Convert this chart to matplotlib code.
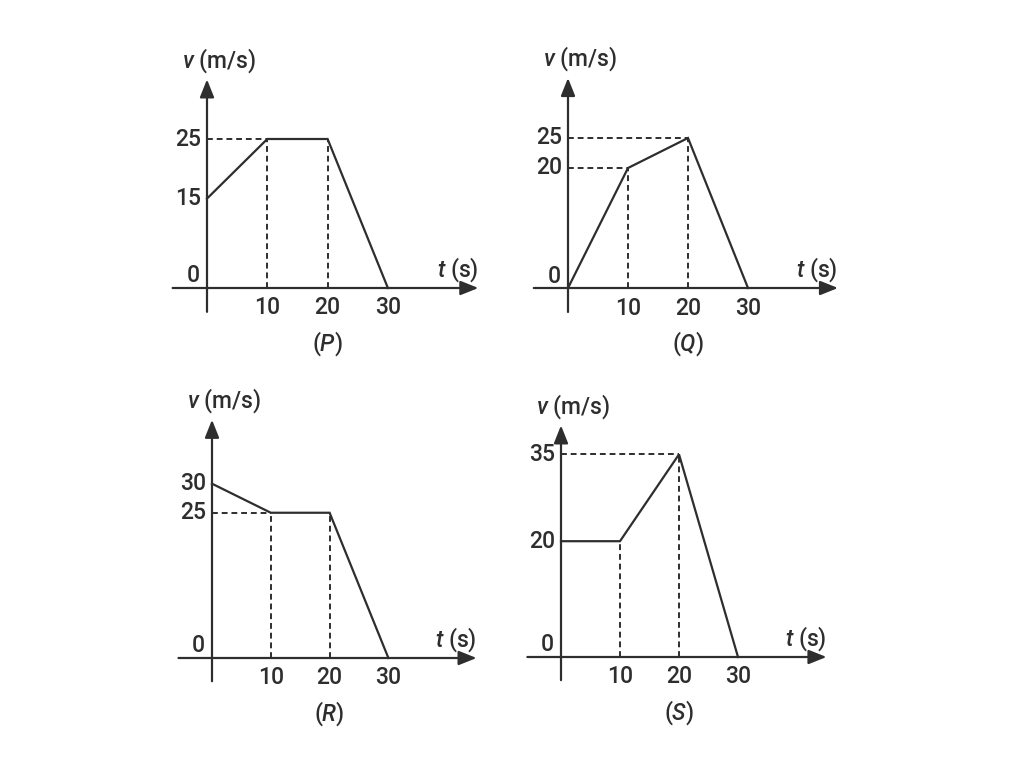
import matplotlib
matplotlib.use("Agg")
import matplotlib.pyplot as plt

plt.rcParams['font.family'] = ['Roboto', 'DejaVu Sans']
plt.rcParams['font.weight'] = 'medium'
plt.rcParams['mathtext.fontset'] = 'custom'
plt.rcParams['mathtext.it'] = 'Roboto:italic:medium'
plt.rcParams['mathtext.rm'] = 'Roboto:medium'

# data
times = [0, 10, 20, 30]
speed_p = [15, 25, 25, 0]
speed_q = [0, 20, 25, 0]
speed_r = [30, 25, 25, 0]
speed_s = [20, 20, 35, 0]
yticks_p = [15, 25]
yticks_q = [20, 25]
yticks_r = [25, 30]
yticks_s = [20, 35]
xticks = [10, 20, 30]
names = ['P', 'Q', 'R', 'S']

FW, FH = 1023, 767
INK = '#2e2e2e'
FS = 16.5

# layout: origin pixel, px per unit (x, y), top of y arrow in data units
layout = {
    'P': dict(ox=207, oy=288, sx=6.03, sy=5.96, ytop=35),
    'Q': dict(ox=568, oy=288, sx=6.0, sy=6.0, ytop=35),
    'R': dict(ox=212, oy=658, sx=5.88, sy=5.81, ytop=41),
    'S': dict(ox=561, oy=657, sx=5.9, sy=5.79, ytop=40),
}


def make_axes(fig, ox, oy, sx, sy, ytop):
    xmin, xmax = -10, 50
    ymin, ymax = -14, ytop + 10
    left = (ox + xmin * sx) / FW
    width = (xmax - xmin) * sx / FW
    bottom = 1 - (oy - ymin * sy) / FH
    height = (ymax - ymin) * sy / FH
    ax = fig.add_axes([left, bottom, width, height])
    ax.set_xlim(xmin, xmax)
    ax.set_ylim(ymin, ymax)
    ax.axis('off')
    return ax


def draw_panel(ax, t, v, yticks, name, ytop):
    arrow = dict(arrowstyle='-|>,head_length=0.6,head_width=0.24',
                 mutation_scale=18, lw=1.6, color=INK, shrinkA=0, shrinkB=0)
    # axes with arrow heads
    ax.annotate('', xy=(45, 0), xytext=(-5.7, 0), arrowprops=arrow)
    ax.annotate('', xy=(0, ytop), xytext=(0, -4), arrowprops=arrow)

    # dashed guides
    dash = dict(color=INK, lw=1.4, linestyle=(0, (3, 2)))
    for yv in yticks:
        if yv == v[0]:
            continue
        tx = t[v.index(yv)]
        ax.plot([0, tx], [yv, yv], **dash)
    for tx, yv in zip(t[1:-1], v[1:-1]):
        ax.plot([tx, tx], [0, yv], **dash)

    # the graph itself
    ax.plot(t, v, color=INK, lw=1.6, solid_joinstyle='miter')

    # tick labels
    for yv in yticks:
        ax.annotate(str(yv), (0, yv), xytext=(-6, 0), textcoords='offset pixels',
                    ha='right', va='center', fontsize=FS, color=INK)
    for tx in xticks:
        ax.annotate(str(tx), (tx, 0), xytext=(0, -20), textcoords='offset pixels',
                    ha='center', va='center', fontsize=FS, color=INK)
    ax.annotate('0', (0, 0), xytext=(-14, 12), textcoords='offset pixels',
                ha='center', va='center', fontsize=FS, color=INK)

    # axis titles
    ax.annotate('$\\mathit{t}$ (s)', (45, 0), xytext=(-21, 18), textcoords='offset pixels',
                ha='center', va='center', fontsize=FS, color=INK)
    ax.annotate('$\\mathit{v}$ (m/s)', (0, ytop), xytext=(12, 19), textcoords='offset pixels',
                ha='center', va='center', fontsize=FS, color=INK)
    ax.annotate('($\\mathit{%s}$)' % name, (20, 0), xytext=(0, -56), textcoords='offset pixels',
                ha='center', va='center', fontsize=FS, color=INK)


fig = plt.figure(figsize=(FW / 100, FH / 100), dpi=100)
fig.patch.set_facecolor('white')

speeds = {'P': speed_p, 'Q': speed_q, 'R': speed_r, 'S': speed_s}
yticks = {'P': yticks_p, 'Q': yticks_q, 'R': yticks_r, 'S': yticks_s}

for name in names:
    lay = layout[name]
    ax = make_axes(fig, **lay)
    draw_panel(ax, times, speeds[name], yticks[name], name, lay['ytop'])

fig.savefig('out.png', dpi=100, facecolor='white')
